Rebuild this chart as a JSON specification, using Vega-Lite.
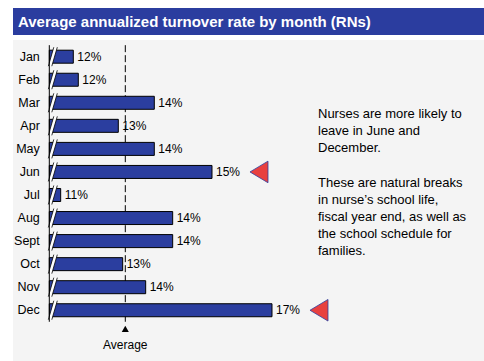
{
  "$schema": "https://vega.github.io/schema/vega-lite/v6.json",
  "padding": {"left": 13, "top": 8, "right": 0, "bottom": 0},
  "background": "white",
  "spacing": 5,
  "config": {"view": {"stroke": null}, "font": "Liberation Sans", "text": {"font": "Liberation Sans"}},
  "datasets": {
    "rates": [
      {"month": "Jan", "rate": 0.11724},
      {"month": "Feb", "rate": 0.11854},
      {"month": "Mar", "rate": 0.1383},
      {"month": "Apr", "rate": 0.12894},
      {"month": "May", "rate": 0.1383},
      {"month": "Jun", "rate": 0.1533},
      {"month": "Jul", "rate": 0.11396},
      {"month": "Aug", "rate": 0.14308},
      {"month": "Sept", "rate": 0.14308},
      {"month": "Oct", "rate": 0.13008},
      {"month": "Nov", "rate": 0.13606},
      {"month": "Dec", "rate": 0.1689}
    ]
  },
  "vconcat": [
    {
      "width": 471,
      "height": 27,
      "view": {"fill": "#2b3d9f", "stroke": null},
      "data": {"values": [{"t": "Average annualized turnover rate by month (RNs)"}]},
      "mark": {"type": "text", "align": "left", "baseline": "middle", "color": "white", "fontWeight": "bold", "fontSize": 15, "dx": 5},
      "encoding": {
        "x": {"datum": 0, "type": "quantitative", "scale": {"domain": [0, 1]}, "axis": null},
        "text": {"field": "t"}
      }
    },
    {
      "width": 471,
      "height": 321,
      "view": {"fill": "#f4f4f4", "stroke": null},
      "layer": [
        {
          "data": {"values": [{}]},
          "mark": {"type": "rule", "color": "black", "strokeWidth": 1, "strokeDash": [7, 3]},
          "encoding": {
            "x": {"datum": 0.13076, "type": "quantitative", "scale": {"domain": [0.101562, 0.22402], "zero": false, "nice": false}, "axis": null},
            "y": {
              "datum": "Jan", "type": "nominal", "bandPosition": 0,
              "scale": {"domain": ["Jan", "Feb", "Mar", "Apr", "May", "Jun", "Jul", "Aug", "Sept", "Oct", "Nov", "Dec", "avg"], "paddingInner": 0, "paddingOuter": 0.463, "align": 0.242},
              "axis": {"title": null, "domain": false, "ticks": false, "offset": -36.3, "labelPadding": 10, "labelFontSize": 12.5, "labelColor": "black", "labelFont": "Liberation Sans", "labelExpr": "datum.value == 'avg' ? '' : datum.value"}
            },
            "y2": {"datum": "Dec", "bandPosition": 1}
          }
        },
        {
          "data": {"name": "rates"},
          "mark": {"type": "bar", "fill": "#2b3e9f", "stroke": "black", "strokeWidth": 1, "height": {"band": 0.564}},
          "encoding": {
            "x": {"field": "rate", "type": "quantitative"},
            "x2": {"datum": 0.111},
            "y": {"field": "month", "type": "nominal"}
          }
        },
        {
          "data": {"name": "rates"},
          "mark": {"type": "point", "shape": "M -0.45 0.95 L 0.1 -0.95 L 0.45 -0.95 L -0.1 0.95 Z", "filled": true, "fill": "white", "opacity": 1, "strokeWidth": 0, "size": 400, "xOffset": 3.5},
          "encoding": {
            "x": {"datum": 0.111, "type": "quantitative"},
            "y": {"field": "month", "type": "nominal"}
          }
        },
        {
          "data": {"name": "rates"},
          "mark": {"type": "point", "shape": "M -0.45 0.95 L 0.1 -0.95 M -0.1 0.95 L 0.45 -0.95", "filled": false, "stroke": "black", "opacity": 1, "strokeWidth": 0.8, "size": 400, "xOffset": 3.5},
          "encoding": {
            "x": {"datum": 0.111, "type": "quantitative"},
            "y": {"field": "month", "type": "nominal"}
          }
        },
        {
          "data": {"values": [{}]},
          "mark": {"type": "rule", "color": "black", "strokeWidth": 1},
          "encoding": {
            "x": {"datum": 0.111, "type": "quantitative"},
            "y": {"datum": "Jan", "type": "nominal", "bandPosition": 0},
            "y2": {"datum": "Dec", "bandPosition": 1}
          }
        },
        {
          "data": {"values": [{}]},
          "mark": {"type": "point", "shape": "triangle-up", "filled": true, "color": "black", "opacity": 1, "size": 50},
          "encoding": {
            "x": {"datum": 0.13076, "type": "quantitative"},
            "y": {"datum": "avg", "type": "nominal", "bandPosition": 0.31}
          }
        },
        {
          "data": {"values": [{"t": "Average"}]},
          "mark": {"type": "text", "fontSize": 12, "color": "black", "align": "center", "baseline": "middle"},
          "encoding": {
            "x": {"datum": 0.13076, "type": "quantitative"},
            "y": {"datum": "avg", "type": "nominal", "bandPosition": 1.0},
            "text": {"field": "t"}
          }
        },
        {
          "data": {"name": "rates"},
          "mark": {"type": "text", "fontSize": 12, "color": "black", "align": "left", "baseline": "middle", "dx": 4},
          "encoding": {
            "x": {"field": "rate", "type": "quantitative"},
            "y": {"field": "month", "type": "nominal"},
            "text": {"field": "rate", "type": "quantitative", "format": ".0%"}
          }
        },
        {
          "data": {"name": "rates"},
          "transform": [{"filter": "datum.month == 'Jun' || datum.month == 'Dec'"}],
          "mark": {"type": "point", "shape": "M 1 -1.2 L -1 0 L 1 1.2 Z", "filled": true, "fill": "#e8403f", "stroke": "#2b3e9f", "strokeWidth": 0.8, "opacity": 1, "size": 324, "xOffset": 47},
          "encoding": {
            "x": {"field": "rate", "type": "quantitative"},
            "y": {"field": "month", "type": "nominal"}
          }
        },
        {
          "data": {"values": [{"t": "Nurses are more likely to\nleave in June and\nDecember."}]},
          "mark": {"type": "text", "fontSize": 13, "color": "black", "align": "left", "baseline": "middle", "lineBreak": "\n", "lineHeight": 17, "dy": -12},
          "encoding": {
            "x": {"datum": 0.18086, "type": "quantitative"},
            "y": {"datum": "Apr", "type": "nominal"},
            "text": {"field": "t"}
          }
        },
        {
          "data": {"values": [{"t": "These are natural breaks\nin nurse’s school life,\nfiscal year end, as well as\nthe school schedule for\nfamilies."}]},
          "mark": {"type": "text", "fontSize": 13, "color": "black", "align": "left", "baseline": "middle", "lineBreak": "\n", "lineHeight": 17, "dy": -35},
          "encoding": {
            "x": {"datum": 0.18086, "type": "quantitative"},
            "y": {"datum": "Aug", "type": "nominal"},
            "text": {"field": "t"}
          }
        }
      ]
    }
  ]
}
